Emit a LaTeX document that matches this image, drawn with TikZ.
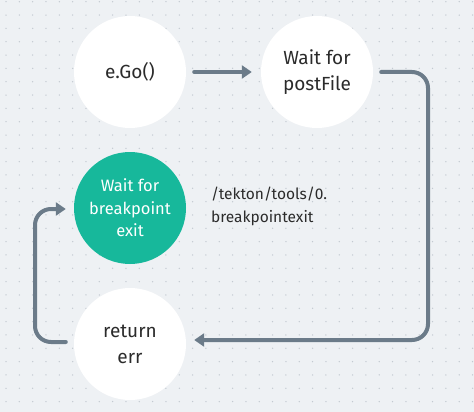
\documentclass[tikz,border=0pt]{standalone}
\usepackage{fontspec}
\setmainfont{Fira Sans}
\usetikzlibrary{arrows.meta}
\definecolor{bgc}{HTML}{EEF1F4}
\definecolor{dotc}{HTML}{C3CAD1}
\definecolor{linec}{HTML}{6B7B89}
\definecolor{greenc}{HTML}{17B89B}
\definecolor{txtc}{HTML}{2B2B2B}
\tikzset{
  state/.style={circle, fill=white, minimum size=112pt, inner sep=0pt, align=center,
    text=txtc, font=\fontsize{19}{26}\selectfont},
  gstate/.style={state, fill=greenc, text=white, font=\fontsize{16.5}{22.5}\selectfont},
  lbl/.style={align=left, text=txtc, font=\fontsize{15.5}{23}\selectfont, inner sep=0pt},
  conn/.style={draw=linec, line width=4pt, line cap=round, rounded corners=16pt,
    -{Triangle[length=10pt,width=13pt]}},
}
\begin{document}
\begin{tikzpicture}[x=1pt,y=-1pt]
\fill[bgc] (0,0) rectangle (474,412);
\useasboundingbox (0,0) rectangle (474,412);
\foreach \i in {0,...,35}{
  \foreach \j in {0,...,30}{
    \fill[dotc] ({6+\i*13.33},{1.7+\j*13.33}) circle (0.75);
  }
}
\node[state] (ego) at (130,72) {e.Go()};
\node[state] (post) at (317,72) {Wait for\\postFile};
\node[gstate] (brk) at (130,208) {Wait for\\breakpoint\\exit};
\node[state] (ret) at (130,344) {return\\err};
\node[lbl, anchor=west] (path) at (211,206) {/tekton/tools/0.\\breakpointexit};
\coordinate (c1) at (428,72);
\coordinate (c2) at (428,340);
\coordinate (c3) at (35,342);
\coordinate (c4) at (35,209);
\draw[conn] ([xshift=8pt]ego.east) -- ([xshift=-9pt]post.west);
\draw[conn] ([xshift=8pt]post.east) -- (c1) -- (c2) -- ([xshift=8pt]ret.east |- c2);
\draw[conn] ([xshift=-8pt]ret.west |- c3) -- (c3) -- (c4) -- ([xshift=-8pt]brk.west |- c4);
\end{tikzpicture}
\end{document}
